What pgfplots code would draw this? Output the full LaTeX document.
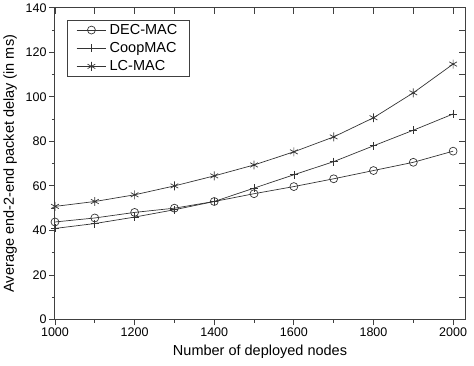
\documentclass[border=0pt]{standalone}
\usepackage{fontspec}
\setmainfont{Liberation Sans}
\usepackage{pgfplots}
\pgfplotsset{compat=1.18}
\begin{document}
\begin{tikzpicture}
\pgfplotsset{
  common/.style={
    scale only axis, width=413pt, height=314pt,
    xmin=1000, xmax=2030, ymin=0, ymax=140,
    axis line style={line width=1pt, black!75},
    tick style={black!75, line width=0.9pt},
  }
}
\begin{axis}[common,
  clip=false,
  tick pos=left,
  xtick={1000,1200,...,2000}, minor xtick={1100,1300,...,1900},
  ytick={0,20,...,140}, minor ytick={10,30,...,130},
  tick align=outside, major tick length=6pt, minor tick length=3pt,
  xticklabel style={/pgf/number format/1000 sep={}, yshift=1pt},
  yticklabel style={xshift=1pt},
  /pgf/number format/assume math mode=true,
  tick label style={font=\fontsize{12.6}{14}\selectfont},
  xlabel={Number of deployed nodes},
  ylabel={Average end-2-end packet delay (in ms)},
  xlabel style={font=\fontsize{14.6}{16}\selectfont, yshift=-1pt},
  ylabel style={font=\fontsize{14.6}{16}\selectfont, yshift=2pt},
  legend style={at={(0.029,0.962)}, anchor=north west, draw=black!75, line width=0.8pt,
    font=\fontsize{14.6}{16}\selectfont, inner xsep=9pt, inner ysep=1pt,
    nodes={inner ysep=3.3pt, inner xsep=3pt}},
  legend cell align=left,
  legend image code/.code={\draw[mark repeat=2, mark phase=2] plot coordinates {(0pt,0pt) (15pt,0pt) (30pt,0pt)};},
  every axis plot/.append style={line width=0.7pt, color=black!80},
]
\addplot[mark=o, mark size=4pt, mark options={fill=white}] coordinates {
(1000,43.8) (1100,45.6) (1200,48.1) (1300,50) (1400,53) (1500,56.5) (1600,59.7) (1700,63.2) (1800,66.9) (1900,70.6) (2000,75.6)};
\addlegendentry{DEC-MAC}
\addplot[mark=+, mark size=4pt] coordinates {
(1000,40.9) (1100,43.1) (1200,46) (1300,49.3) (1400,53) (1500,59) (1600,65) (1700,70.9) (1800,78) (1900,85) (2000,92.3)};
\addlegendentry{CoopMAC}
\addplot[mark=asterisk, mark size=4.5pt] coordinates {
(1000,50.8) (1100,53) (1200,56) (1300,60) (1400,64.5) (1500,69.4) (1600,75.3) (1700,82) (1800,90.6) (1900,101.8) (2000,114.7)};
\addlegendentry{LC-MAC}
\draw[line width=1pt, black!75] (rel axis cs:0,0) rectangle (rel axis cs:1,1);
\path (rel axis cs:0,0) ++(-52pt,-46pt) (rel axis cs:1,1) ++(9pt,5pt);
\end{axis}
\begin{axis}[common,
  tick pos=right,
  xtick={1000,1100,...,2000}, ytick={0,10,...,140},
  xticklabels={}, yticklabels={},
  tick label style={inner sep=0pt},
  tick align=inside, major tick length=6pt,
]
\end{axis}
\end{tikzpicture}
\end{document}
